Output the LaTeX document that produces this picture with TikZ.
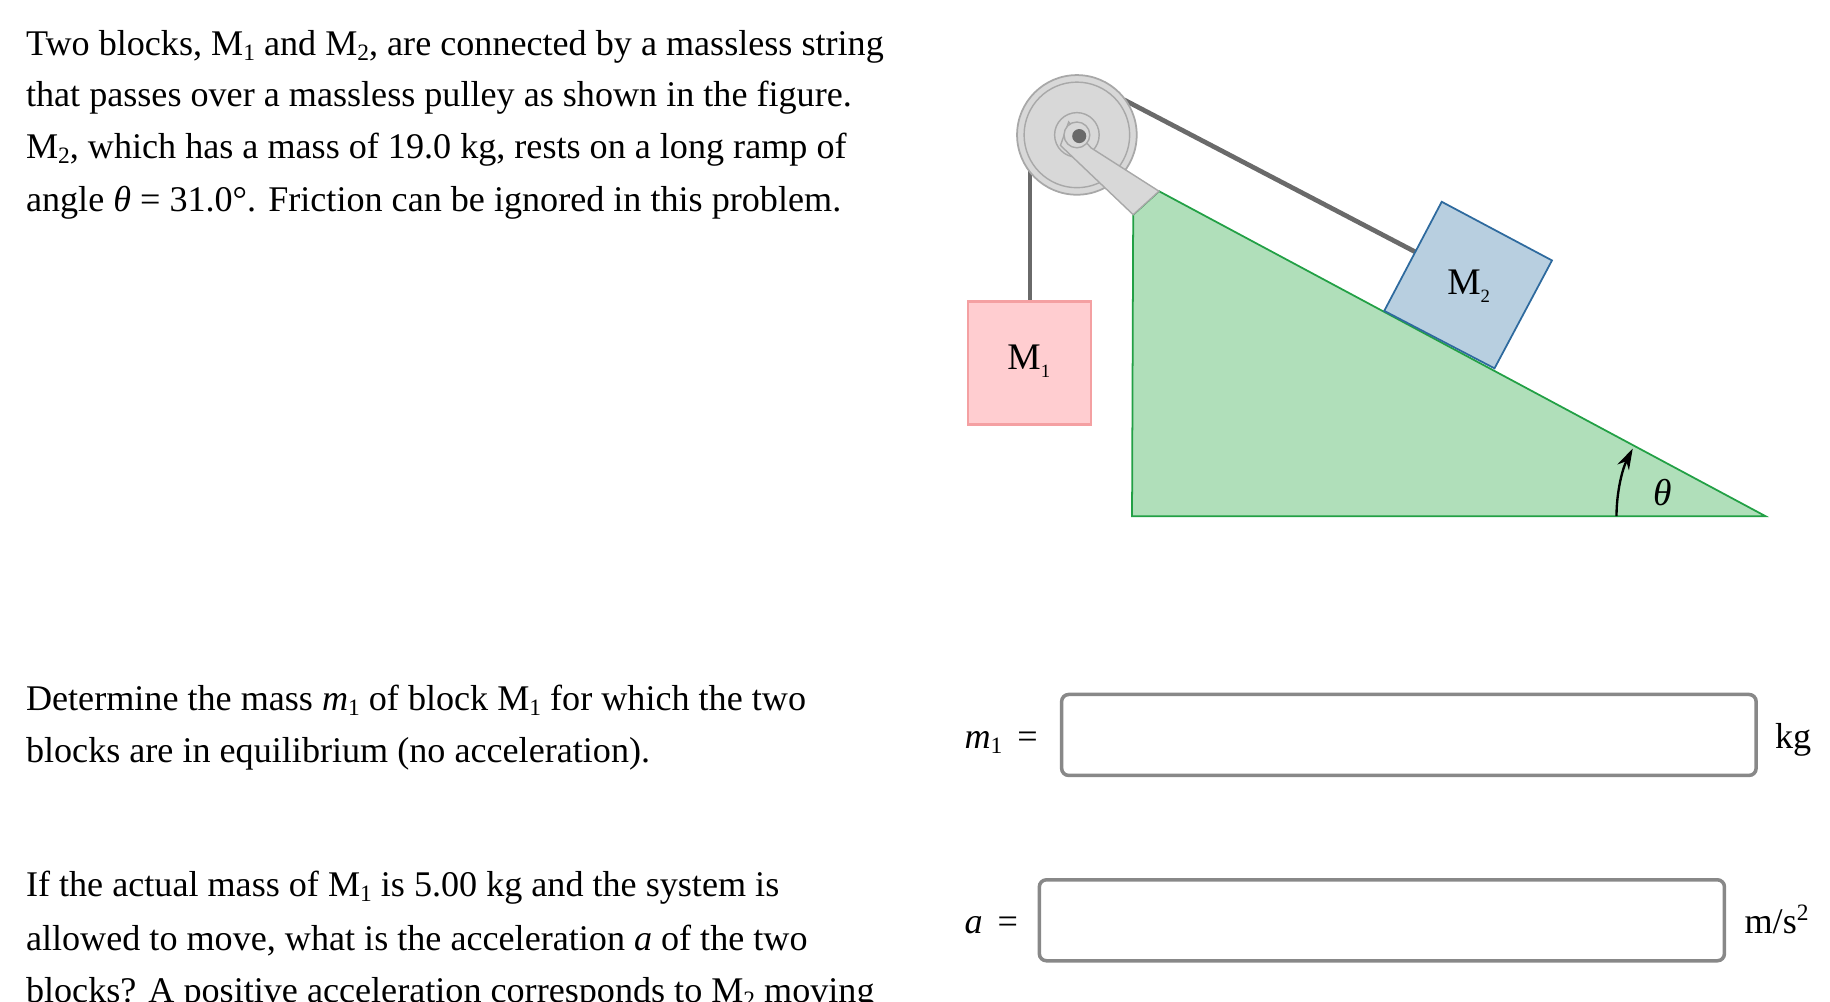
\documentclass[tikz,border=0pt]{standalone}
\usepackage{fontspec}
\setmainfont{Liberation Serif}
\usepackage{unicode-math}
\setmathfont{Latin Modern Math}
\usetikzlibrary{arrows.meta}
\definecolor{ramp}{HTML}{B0DFBA}
\definecolor{rampd}{HTML}{22A045}
\definecolor{pink}{HTML}{FFCDD0}
\definecolor{pinkd}{HTML}{F4A0A2}
\definecolor{blu}{HTML}{B8CFE0}
\definecolor{blud}{HTML}{2E6A9E}
\definecolor{pul}{HTML}{D8D8D8}
\definecolor{puld}{HTML}{A8A8A8}
\definecolor{str}{HTML}{6A6A6A}
\newcommand{\sub}[1]{\raisebox{-0.3ex}{\fontsize{20}{20}\selectfont #1}}
\tikzset{txt/.style={anchor=base west,inner sep=0,font=\fontsize{30.8}{36}\selectfont},
 ans/.style={draw=str!80,line width=3pt,rounded corners=6pt},
 lab/.style={inner sep=0,font=\fontsize{32}{36}\selectfont}}
\begin{document}
\begin{tikzpicture}[x=1pt,y=-1pt]
\useasboundingbox (0,0) rectangle (1560,854);
% text
\node[txt] (t1) at (22,47) {Two blocks, M\sub{1} and M\sub{2}, are connected by a massless string};
\node[txt] (t2) at (22,91) {that passes over a massless pulley as shown in the figure.};
\node[txt] (t3) at (22,135) {M\sub{2}, which has a mass of 19.0 kg, rests on a long ramp of};
\node[txt] (t4) at (22,180) {angle \textit{θ} = 31.0°. Friction can be ignored in this problem.};
\node[txt] (q1) at (22,606) {Determine the mass \textit{m}\sub{1} of block M\sub{1} for which the two};
\node[txt] (q2) at (22,650) {blocks are in equilibrium (no acceleration).};
\node[txt] (r1) at (22,764) {If the actual mass of M\sub{1} is 5.00 kg and the system is};
\node[txt] (r2) at (22,810) {allowed to move, what is the acceleration \textit{a} of the two};
\node[txt] (r3) at (22,855) {blocks? A positive acceleration corresponds to M\sub{2} moving};
% answer boxes
\draw[ans] (905,592) rectangle (1497,661);
\draw[ans] (886,750) rectangle (1470,819);
\node[txt] (e1) at (822,638) {\textit{m}\sub{1} \,=};
\node[txt] (e2) at (822,796) {\textit{a} \,=};
\node[txt] (u1) at (1513,638) {kg};
\node[txt] (u2) at (1487,796) {m/s\raisebox{0.8ex}{\fontsize{20}{20}\selectfont 2}};
% ramp
\fill[ramp] (966,183) -- (988,163) -- (1505,440) -- (965,440) -- cycle;
\draw[rampd,line width=1.5pt] (988,163) -- (1505,440) -- (965,440) -- (966,183) -- cycle;
% strings
\draw[str,line width=4pt] (878,140) -- (878,258);
\draw[str,line width=4pt] (958,85) -- (1207,215);
% pulley
\fill[pul,draw=puld,line width=1.5pt] (918,115) circle (51);
\draw[puld,line width=1.2pt] (918,115) circle (45);
\draw[puld,line width=1.2pt] (918,115) circle (19);
\fill[pul,draw=puld,line width=1.2pt] (911,104) -- (930,126) -- (988,163) -- (966,183) -- (904,124) -- cycle;
\fill[pul,draw=puld,line width=1.2pt] (918,115) circle (11);
\fill[str] (920,116) circle (6);
% blocks
\draw[pinkd,fill=pink,line width=2pt] (825,257) rectangle (930,362);
\node[lab] (m1) at (877,308) {M\raisebox{-0.45ex}{\fontsize{16}{16}\selectfont 1}};
\draw[blud,fill=blu,line width=1.5pt] (1180,265) -- (1229,172) -- (1323,222) -- (1274,314) -- cycle;
\node[lab] (m2) at (1252,244) {M\raisebox{-0.45ex}{\fontsize{16}{16}\selectfont 2}};
% angle
\draw[-{Stealth[length=18pt,width=11pt]},line width=2pt] (1378,440) arc[start angle=180,end angle=207,radius=127];
\node[lab] (th) at (1417,420) {\textit{θ}};
\end{tikzpicture}
\end{document}
